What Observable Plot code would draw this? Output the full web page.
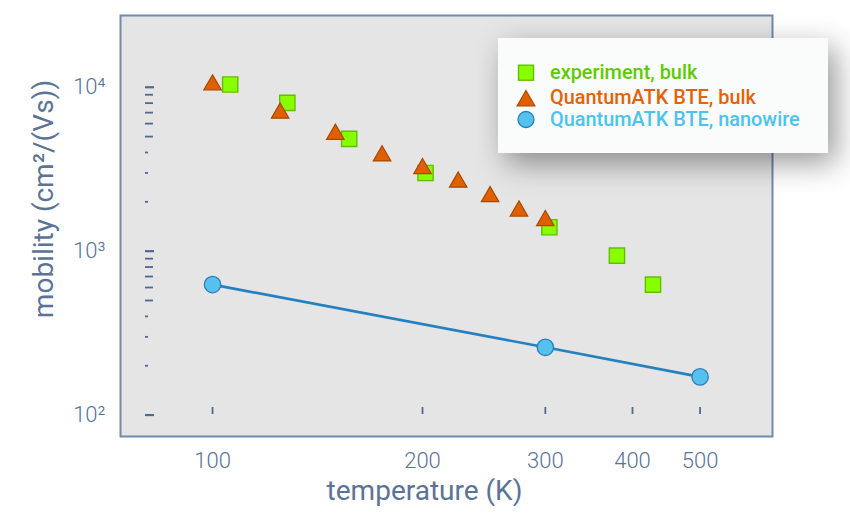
<!DOCTYPE html>
<html><head><meta charset="utf-8">
<script src="https://cdn.jsdelivr.net/npm/d3@7"></script>
<script src="https://cdn.jsdelivr.net/npm/@observablehq/plot@0.6"></script>
<style>
body{margin:0;background:#fff;}
#wrap{position:relative;width:850px;height:513px;font-family:Roboto,sans-serif;}
#legend{position:absolute;left:498px;top:38px;width:330px;height:115px;background:#fafbfb;box-shadow:8px 10px 28px rgba(0,0,0,0.4);}
#legend svg{position:absolute;left:0;top:0;}
</style></head><body><div id="wrap"></div>
<script>
// ---- data ----
const expT = [106, 128, 157, 202, 304, 380, 428];
const expMobility = [10400, 8030, 4840, 3000, 1400, 940, 625];
const bteBulkT = [100, 125, 150, 175, 200, 225, 250, 275, 300];
const bteBulkMobility = [10700, 7200, 5350, 3950, 3300, 2730, 2230, 1820, 1590];
const nanoT = [100, 300, 500];
const nanoMobility = [625, 259, 171];
const seriesNames = ["experiment, bulk", "QuantumATK BTE, bulk", "QuantumATK BTE, nanowire"];
const xTicks = [100, 200, 300, 400, 500];
const yMajorTicks = [100, 1000, 10000];
const yTickLabels = ["10²", "10³", "10⁴"];
const yMinorLong = [500, 600, 700, 800, 900, 5000, 6000, 7000, 8000, 9000];
const yMinorShort = [200, 300, 400, 2000, 3000, 4000];
const xLabel = "temperature (K)";
const yLabel = "mobility (cm²/(Vs))";

const expData = expT.map((t, i) => ({t, m: expMobility[i]}));
const bulkData = bteBulkT.map((t, i) => ({t, m: bteBulkMobility[i]}));
const nanoData = nanoT.map((t, i) => ({t, m: nanoMobility[i]}));

const textCol = "#5b7396";
const tickCol = "#4f6990";
const green = "#88ff00", greenStroke = "#62bf00", greenText = "#5ccb00";
const orange = "#e06000", orangeStroke = "#a84800", orangeText = "#e46205";
const blue = "#56c1ec", blueStroke = "#2a7dbd", blueText = "#4cc2ee", lineCol = "#2580c0";

const plot = Plot.plot({
  width: 850, height: 513,
  marginLeft: 120, marginRight: 78, marginTop: 15, marginBottom: 77,
  style: {fontFamily: "Roboto, sans-serif", background: "transparent", overflow: "visible"},
  x: {type: "log", domain: [73.8, 635]},
  y: {type: "log", domain: [74, 27400]},
  marks: [
    Plot.frame({fill: "#e5e5e5", stroke: "none"}),
    // tick marks inside the frame
    Plot.axisY({ticks: yMajorTicks, tickSize: 9, dx: 34, fill: "none", stroke: tickCol, strokeWidth: 2.2, label: null}),
    Plot.axisY({ticks: yMinorLong, tickSize: 8, dx: 33, fill: "none", stroke: tickCol, strokeWidth: 1.8, label: null}),
    Plot.axisY({ticks: yMinorShort, tickSize: 3, dx: 28, fill: "none", stroke: tickCol, strokeWidth: 1.8, label: null}),
    Plot.axisX({ticks: xTicks, tickSize: 7, dy: -29, fill: "none", stroke: tickCol, strokeWidth: 1.8, label: null}),
    // tick labels
    Plot.axisY({ticks: yMajorTicks, tickSize: 0, tickPadding: 15, tickFormat: d => yTickLabels[yMajorTicks.indexOf(d)],
      fontSize: 22, fontWeight: 300, fill: textCol, label: null}),
    Plot.axisX({ticks: xTicks, tickSize: 0, tickPadding: 16, tickFormat: d => String(d),
      fontSize: 22, fontWeight: 300, fill: textCol, label: null}),
    // axis titles
    Plot.text([xLabel], {frameAnchor: "bottom", text: d => d, dx: -22, dy: 55, textAnchor: "middle", lineAnchor: "middle",
      fontSize: 28, fill: textCol}),
    Plot.text([yLabel], {frameAnchor: "left", text: d => d, rotate: -90, dx: -76, dy: -27, textAnchor: "middle", lineAnchor: "middle",
      fontSize: 28, fill: textCol}),
    // data
    Plot.line(nanoData, {x: "t", y: "m", stroke: lineCol, strokeWidth: 2.6}),
    Plot.dot(nanoData, {x: "t", y: "m", r: 8.2, fill: blue, stroke: blueStroke, strokeWidth: 1.3}),
    Plot.dot(expData, {x: "t", y: "m", symbol: "square", r: 8.6, fill: green, stroke: greenStroke, strokeWidth: 1.4}),
    Plot.dot(bulkData, {x: "t", y: "m", symbol: "triangle", r: 6.5, dy: 2.5, fill: orange, stroke: orangeStroke, strokeWidth: 1.2}),
    Plot.frame({stroke: "#7189aa", strokeWidth: 2})
  ]
});

const wrap = document.getElementById("wrap");
wrap.appendChild(plot);

// ---- legend ----
const legend = document.createElement("div");
legend.id = "legend";
wrap.appendChild(legend);
const svg = d3.select(legend).append("svg").attr("width", 330).attr("height", 115)
  .style("font-family", "Roboto, sans-serif");
const rows = [
  {name: seriesNames[0], my: 34.7, ty: 40.5, color: greenText},
  {name: seriesNames[1], my: 60.3, ty: 66.2, color: orangeText},
  {name: seriesNames[2], my: 81.5, ty: 88.2, color: blueText}
];
svg.append("rect").attr("x", 28 - 7.5).attr("y", rows[0].my - 7.5).attr("width", 15).attr("height", 15)
  .attr("fill", green).attr("stroke", greenStroke).attr("stroke-width", 1.4);
svg.append("path").attr("d", d3.symbol(d3.symbolTriangle, 135)())
  .attr("transform", `translate(28,${rows[1].my + 2.4})`)
  .attr("fill", orange).attr("stroke", orangeStroke).attr("stroke-width", 1.2);
svg.append("circle").attr("cx", 28).attr("cy", rows[2].my).attr("r", 8)
  .attr("fill", blue).attr("stroke", blueStroke).attr("stroke-width", 1.3);
svg.selectAll("text.lab").data(rows).join("text").attr("class", "lab")
  .attr("x", 52).attr("y", d => d.ty).attr("fill", d => d.color)
  .attr("font-size", 19.9).attr("font-weight", 500).text(d => d.name);
</script>
</body></html>
